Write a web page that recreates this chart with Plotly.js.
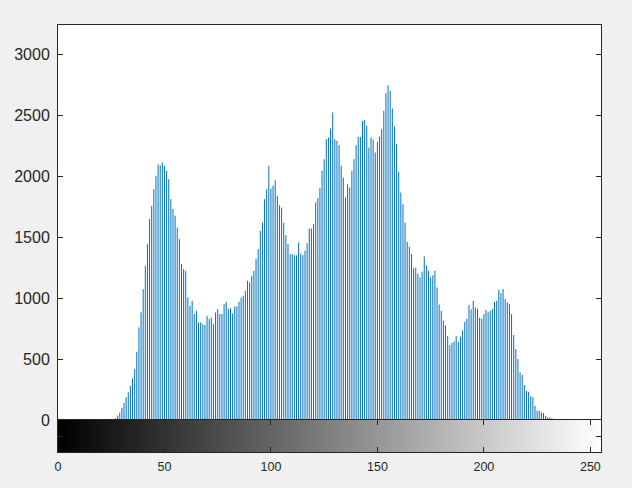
<!DOCTYPE html>
<html>
<head>
<meta charset="utf-8">
<script src="https://cdn.plot.ly/plotly-3.0.1.min.js"></script>
<style>html,body{margin:0;padding:0;background:#f0f0f0;}#chart{width:632px;height:488px;}</style>
</head>
<body>
<div id="chart"></div>
<script>
// Gray levels (histogram bins)
const bins = [];
for (let i = 0; i < 256; i++) bins.push(i);

// Pixel counts per gray level
const counts = [
  0,0,0,0,0,0,0,0,0,0,
  0,0,0,0,0,0,0,0,0,0,
  0,0,0,0,2,4,8,15,36,60,
  100,139,186,227,280,342,418,560,760,883,
  1074,1265,1443,1648,1757,1893,2003,2098,2090,2112,
  2085,2044,1975,1811,1730,1675,1579,1484,1279,1238,
  1224,1005,937,978,869,896,801,801,787,779,
  855,828,841,787,883,910,869,869,951,970,
  910,915,874,932,932,970,1005,1019,1060,1142,
  1128,1183,1224,1320,1402,1552,1620,1811,1893,2085,
  1899,1921,1967,1839,1760,1743,1618,1516,1443,1360,
  1361,1352,1350,1456,1365,1352,1388,1450,1571,1571,
  1607,1784,1820,1903,2044,2139,2303,2317,2391,2522,
  2303,2290,2254,2085,1989,1825,1934,1907,2044,2139,
  2254,2322,2322,2454,2462,2413,2235,2317,2298,2194,
  2281,2325,2385,2536,2680,2746,2699,2555,2407,2262,
  2035,1866,1770,1620,1462,1420,1361,1245,1250,1200,
  1170,1216,1342,1268,1224,1169,1186,1224,1087,947,
  897,814,776,688,616,632,644,688,640,685,
  735,804,830,943,907,978,924,912,838,830,
  869,904,883,896,910,970,978,1068,1041,1074,
  992,965,951,869,697,582,500,391,369,287,
  240,232,194,186,117,76,76,63,57,35,
  22,22,14,5,0,0,0,0,0,0,
  0,0,0,0,0,0,0,0,0,0,
  0,0,0,0,0,0
];

const yTicks = [0, 500, 1000, 1500, 2000, 2500, 3000];
const xTicks = [0, 50, 100, 150, 200, 250];

const axisColor = '#262626';
const fontFam = 'Liberation Sans, Arial, Helvetica, sans-serif';

// Stem segments (imhist draws a vertical line per bin from 0 to its count)
const stemX = [], stemY = [];
bins.forEach((b, i) => {
  if (counts[i] > 0) {
    stemX.push(b, b, null);
    stemY.push(0, counts[i], null);
  }
});

const traces = [
  {
    type: 'scatter',
    mode: 'lines',
    x: stemX,
    y: stemY,
    line: {color: '#0072bd', width: 1},
    xaxis: 'x',
    yaxis: 'y',
    hoverinfo: 'skip',
    connectgaps: false
  },
  {
    type: 'heatmap',
    x: bins,
    y: [0.5],
    z: [bins],
    zmin: 0,
    zmax: 255,
    colorscale: [[0, 'rgb(0,0,0)'], [1, 'rgb(255,255,255)']],
    showscale: false,
    xaxis: 'x2',
    yaxis: 'y2',
    hoverinfo: 'skip'
  }
];

const cbFrac = 32 / 427;

const layout = {
  width: 632,
  height: 488,
  paper_bgcolor: '#f0f0f0',
  plot_bgcolor: '#ffffff',
  margin: {l: 58, r: 31, t: 25, b: 36, pad: 0},
  showlegend: false,
  font: {family: fontFam, color: axisColor},
  xaxis: {
    domain: [0, 1],
    anchor: 'y',
    range: [0, 255],
    showticklabels: false,
    ticks: '',
    showgrid: false,
    zeroline: false,
    showline: true,
    mirror: true,
    linecolor: axisColor,
    linewidth: 1
  },
  yaxis: {
    domain: [cbFrac, 1],
    anchor: 'x',
    range: [0, 3240],
    tickvals: yTicks,
    ticktext: yTicks.map(String),
    ticks: 'inside',
    ticklen: 5,
    tickcolor: axisColor,
    tickfont: {size: 16, color: axisColor, family: fontFam},
    ticklabelstandoff: 4,
    showgrid: false,
    zeroline: false,
    showline: true,
    mirror: 'ticks',
    linecolor: axisColor,
    linewidth: 1
  },
  xaxis2: {
    domain: [0, 1],
    anchor: 'y2',
    range: [0, 255],
    tickvals: xTicks,
    ticktext: xTicks.map(String),
    ticks: 'inside',
    ticklen: 5,
    tickcolor: axisColor,
    tickfont: {size: 12.5, color: axisColor, family: fontFam},
    ticklabelstandoff: 3,
    showgrid: false,
    zeroline: false,
    showline: true,
    mirror: 'ticks',
    linecolor: axisColor,
    linewidth: 1
  },
  yaxis2: {
    domain: [0, cbFrac],
    anchor: 'x2',
    range: [0, 1],
    tickvals: [0.5],
    ticks: 'inside',
    ticklen: 5,
    tickcolor: axisColor,
    showticklabels: false,
    showgrid: false,
    zeroline: false,
    showline: true,
    mirror: 'ticks',
    linecolor: axisColor,
    linewidth: 1
  }
};

Plotly.newPlot('chart', traces, layout, {displayModeBar: false, staticPlot: true});
</script>
</body>
</html>
